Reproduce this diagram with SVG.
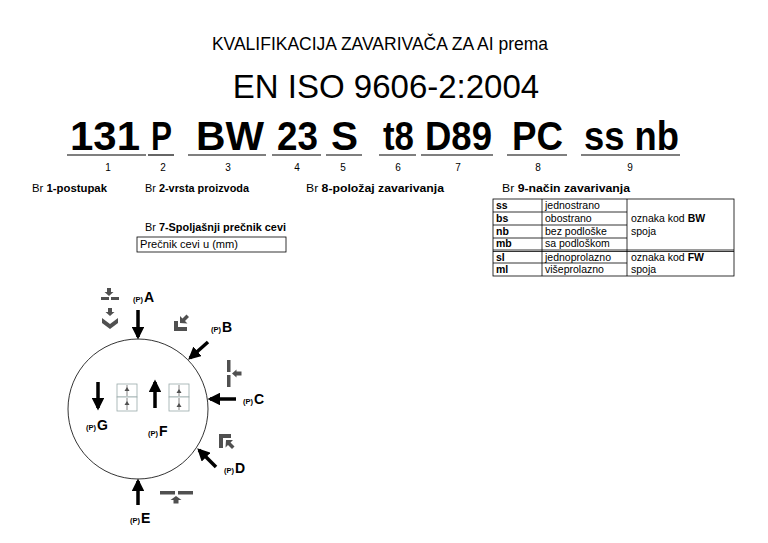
<svg xmlns="http://www.w3.org/2000/svg" width="768" height="543" viewBox="0 0 768 543">
<defs>
<style>
text{font-family:"Liberation Sans",Arial,sans-serif;fill:#000}
.code{font-size:40px;font-weight:bold}
.num{font-size:10px}
.lbl{font-size:11px}
.b{font-weight:bold}
.tb{font-size:10.5px}
.ul{stroke:#000;stroke-width:1.2}
.ic{fill:#505050}
.pl{font-size:7.5px;font-weight:bold}
.pL{font-size:14px;font-weight:bold}
</style>
<marker id="ah" viewBox="0 0 10 10" refX="8" refY="5" markerWidth="3.6" markerHeight="3.6" orient="auto"><path d="M0,0 L10,5 L0,10 z" fill="#000"/></marker>
</defs>
<rect width="768" height="543" fill="#fff"/>
<g id="title">
<text x="380" y="50" font-size="17.5" text-anchor="middle">KVALIFIKACIJA ZAVARIVAČA ZA AI prema</text>
<text x="386" y="98" font-size="33" text-anchor="middle">EN ISO 9606-2:2004</text>
</g>
<g id="codes">
<text class="code" x="70" y="150" textLength="70" lengthAdjust="spacingAndGlyphs">131</text>
<text class="code" x="151" y="150" textLength="21" lengthAdjust="spacingAndGlyphs">P</text>
<text class="code" x="196" y="150" textLength="68" lengthAdjust="spacingAndGlyphs">BW</text>
<text class="code" x="277" y="150" textLength="41" lengthAdjust="spacingAndGlyphs">23</text>
<text class="code" x="331" y="150" textLength="27" lengthAdjust="spacingAndGlyphs">S</text>
<text class="code" x="383" y="150" textLength="31" lengthAdjust="spacingAndGlyphs">t8</text>
<text class="code" x="425" y="150" textLength="67" lengthAdjust="spacingAndGlyphs">D89</text>
<text class="code" x="512" y="150" textLength="51" lengthAdjust="spacingAndGlyphs">PC</text>
<text class="code" x="584" y="150" textLength="95" lengthAdjust="spacingAndGlyphs">ss nb</text>
<line class="ul" x1="67" y1="155" x2="146" y2="155"/>
<line class="ul" x1="148" y1="155" x2="174" y2="155"/>
<line class="ul" x1="188" y1="155" x2="266" y2="155"/>
<line class="ul" x1="272" y1="155" x2="321" y2="155"/>
<line class="ul" x1="326" y1="155" x2="362" y2="155"/>
<line class="ul" x1="379" y1="155" x2="416" y2="155"/>
<line class="ul" x1="421" y1="155" x2="493" y2="155"/>
<line class="ul" x1="507" y1="155" x2="567" y2="155"/>
<line class="ul" x1="581" y1="155" x2="680" y2="155"/>
<text class="num" x="108" y="171" text-anchor="middle">1</text>
<text class="num" x="163" y="171" text-anchor="middle">2</text>
<text class="num" x="228" y="171" text-anchor="middle">3</text>
<text class="num" x="297" y="171" text-anchor="middle">4</text>
<text class="num" x="343" y="171" text-anchor="middle">5</text>
<text class="num" x="398" y="171" text-anchor="middle">6</text>
<text class="num" x="458" y="171" text-anchor="middle">7</text>
<text class="num" x="538" y="171" text-anchor="middle">8</text>
<text class="num" x="630" y="171" text-anchor="middle">9</text>
</g>
<g id="labels">
<text class="lbl" x="32" y="192" textLength="75" lengthAdjust="spacingAndGlyphs">Br <tspan class="b">1-postupak</tspan></text>
<text class="lbl" x="145" y="192" textLength="104" lengthAdjust="spacingAndGlyphs">Br <tspan class="b">2-vrsta proizvoda</tspan></text>
<text class="lbl" x="306" y="192" textLength="138" lengthAdjust="spacingAndGlyphs">Br <tspan class="b">8-položaj zavarivanja</tspan></text>
<text class="lbl" x="502" y="192" textLength="128" lengthAdjust="spacingAndGlyphs">Br <tspan class="b">9-način zavarivanja</tspan></text>
<text class="lbl" x="145" y="231" textLength="141" lengthAdjust="spacingAndGlyphs">Br <tspan class="b">7-Spoljašnji prečnik cevi</tspan></text>
<rect x="137" y="237" width="149" height="15" fill="none" stroke="#000" stroke-width="0.8"/>
<text class="tb" x="140" y="248" textLength="98" lengthAdjust="spacingAndGlyphs">Prečnik cevi u (mm)</text>
</g>
<g id="table" stroke="#000" stroke-width="0.8" fill="none">
<rect x="493" y="199" width="241" height="77"/>
<line x1="542" y1="199" x2="542" y2="276"/>
<line x1="627" y1="199" x2="627" y2="276"/>
<line x1="493" y1="212" x2="627" y2="212"/>
<line x1="493" y1="225" x2="627" y2="225"/>
<line x1="493" y1="238" x2="627" y2="238"/>
<line x1="493" y1="250" x2="734" y2="250"/>
<line x1="493" y1="251.5" x2="734" y2="251.5"/>
<line x1="493" y1="263" x2="627" y2="263"/>
</g>
<g id="tabletext">
<text class="tb b" x="496" y="209">ss</text><text class="tb" x="545" y="209">jednostrano</text>
<text class="tb b" x="496" y="222">bs</text><text class="tb" x="545" y="222">obostrano</text>
<text class="tb b" x="496" y="235">nb</text><text class="tb" x="545" y="235">bez podloške</text>
<text class="tb b" x="496" y="247">mb</text><text class="tb" x="545" y="247">sa podloškom</text>
<text class="tb b" x="496" y="261">sl</text><text class="tb" x="545" y="261">jednoprolazno</text>
<text class="tb b" x="496" y="273">ml</text><text class="tb" x="545" y="273">višeprolazno</text>
<text class="tb" x="631" y="222">oznaka kod <tspan class="b">BW</tspan></text>
<text class="tb" x="631" y="235">spoja</text>
<text class="tb" x="631" y="261">oznaka kod <tspan class="b">FW</tspan></text>
<text class="tb" x="631" y="273">spoja</text>
</g>
<g id="pipe">
<circle cx="138" cy="409" r="70" fill="none" stroke="#000" stroke-width="0.8"/>
</g>
<g id="connectors" stroke="#000" stroke-width="3.5" marker-end="url(#ah)">
<line x1="138" y1="310" x2="138" y2="337"/>
<line x1="208" y1="342" x2="190" y2="358"/>
<line x1="236" y1="399" x2="210" y2="399"/>
<line x1="216" y1="467" x2="199" y2="450"/>
<line x1="138" y1="505" x2="138" y2="481"/>
<line x1="98" y1="382" x2="98" y2="408"/>
<line x1="155" y1="408" x2="155" y2="382"/>
</g>
<g id="icons">
<rect class="ic" x="101" y="297" width="8" height="3"/><rect class="ic" x="111" y="297" width="8" height="3"/>
<path class="ic" d="M107,288 h4 v4 h2.5 l-4.5,4 l-4.5,-4 h2.5z"/>
<path class="ic" d="M102,318 l8,6 l8,-6 v5 l-8,6 l-8,-6z"/>
<path class="ic" d="M108,308 h4 v4 h2.5 l-4.5,4 l-4.5,-4 h2.5z"/>
<path class="ic" d="M174,321 h4 v6 h9 v4 h-13z"/>
<path class="ic" d="M180,323 v-7 l2.5,2.5 l4,-4 l2.5,2.5 l-4,4 l2.5,2.5z"/>
<rect class="ic" x="227" y="360" width="3.5" height="12"/><rect class="ic" x="227" y="375" width="3.5" height="12"/>
<path class="ic" d="M232,373.5 l4.5,-4 v2 h5 v4 h-5 v2z"/>
<path class="ic" d="M219,434 h12 v4 h-8 v10 h-4z"/>
<path class="ic" d="M226,440 h7 l-2.5,2.5 l4,4 l-2.5,2.5 l-4,-4 l-2.5,2.5z"/>
<rect class="ic" x="160" y="491" width="15" height="3.5"/><rect class="ic" x="178" y="491" width="15" height="3.5"/>
<path class="ic" d="M176,496 l5.5,4 h-3 v3.5 h-5 v-3.5 h-3z"/>
<g fill="#fff" stroke="#9aa" stroke-width="0.8">
<rect x="117" y="384" width="20" height="13"/><rect x="117" y="397" width="20" height="14"/>
<rect x="169" y="384" width="20" height="13"/><rect x="169" y="397" width="20" height="14"/>
</g>
<g stroke="#666" stroke-width="0.8">
<line x1="127" y1="385" x2="127" y2="396"/><line x1="127" y1="398" x2="127" y2="410"/>
<line x1="179" y1="385" x2="179" y2="396"/><line x1="179" y1="398" x2="179" y2="410"/>
</g>
<path class="ic" d="M124.5,391 l2.5,-4 l2.5,4z M124.5,405 l2.5,-4 l2.5,4z M176.5,393 l2.5,-4 l2.5,4z M176.5,407 l2.5,-4 l2.5,4z"/>
</g>
<g id="plabels">
<text x="133" y="302"><tspan class="pl">(P)</tspan><tspan class="pL" dx="1">A</tspan></text>
<text x="211" y="332"><tspan class="pl">(P)</tspan><tspan class="pL" dx="1">B</tspan></text>
<text x="243" y="404"><tspan class="pl">(P)</tspan><tspan class="pL" dx="1">C</tspan></text>
<text x="224" y="473"><tspan class="pl">(P)</tspan><tspan class="pL" dx="1">D</tspan></text>
<text x="130" y="523"><tspan class="pl">(P)</tspan><tspan class="pL" dx="1">E</tspan></text>
<text x="148" y="436"><tspan class="pl">(P)</tspan><tspan class="pL" dx="1">F</tspan></text>
<text x="86" y="430"><tspan class="pl">(P)</tspan><tspan class="pL" dx="1">G</tspan></text>
</g>
</svg>
